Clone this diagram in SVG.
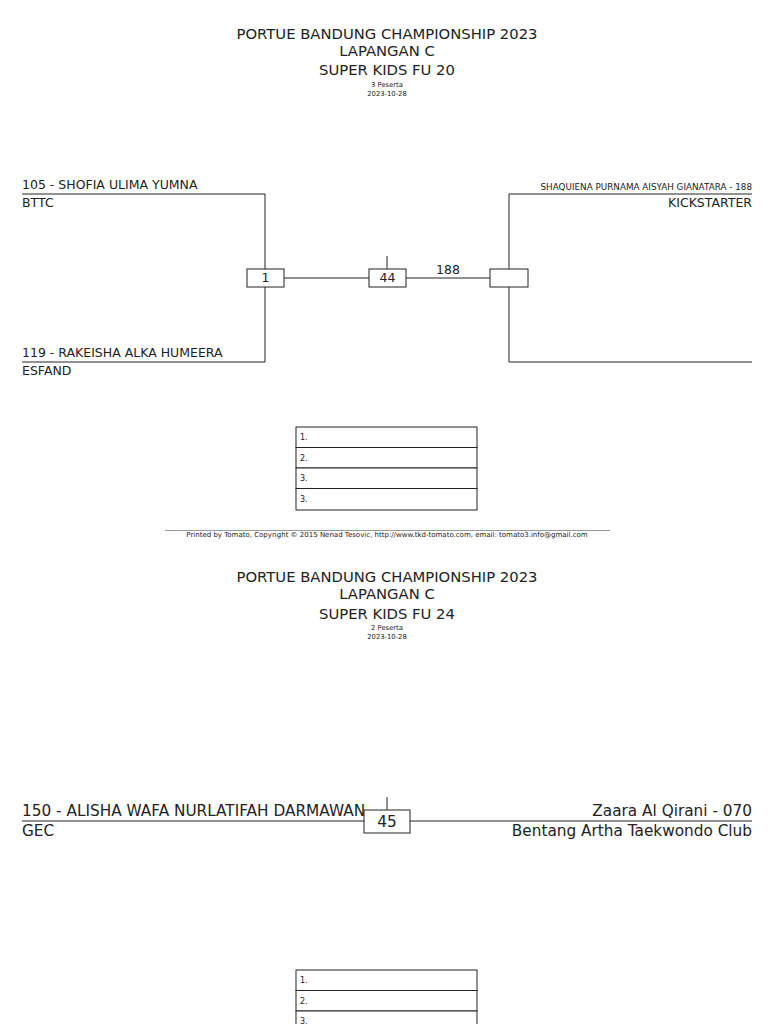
<svg xmlns="http://www.w3.org/2000/svg" width="768" height="1024" viewBox="0 0 768 1024">
<style>
text{font-family:"DejaVu Sans",Verdana,sans-serif;fill:#222}
.t{font-size:14.8px;text-anchor:middle}
.s{font-size:6.8px;text-anchor:middle}
.n{font-size:12.5px}
.b{font-size:15.3px}
.r{text-anchor:end}
.c{text-anchor:middle}
line,rect{stroke:#222;stroke-width:1;fill:#fff}
</style>
<rect x="0" y="0" width="768" height="1024" style="stroke:none"/>
<g id="header1">
<text class="t" x="387" y="39">PORTUE BANDUNG CHAMPIONSHIP 2023</text>
<text class="t" x="387" y="56">LAPANGAN C</text>
<text class="t" x="387" y="75">SUPER KIDS FU 20</text>
<text class="s" x="387" y="87">3 Peserta</text>
<text class="s" x="387" y="96">2023-10-28</text>
</g>
<g id="connectors1">
<line x1="22" y1="194" x2="265" y2="194"/>
<line x1="22" y1="362" x2="265" y2="362"/>
<line x1="265" y1="194" x2="265" y2="362"/>
<line x1="284" y1="278" x2="369" y2="278"/>
<line x1="406" y1="278" x2="490" y2="278"/>
<line x1="387" y1="256" x2="387" y2="269"/>
<line x1="509" y1="194" x2="752" y2="194"/>
<line x1="509" y1="362" x2="752" y2="362"/>
<line x1="509" y1="194" x2="509" y2="362"/>
</g>
<g id="p105"><text class="n" x="22" y="189">105 - SHOFIA ULIMA YUMNA</text><text class="n" x="22" y="207">BTTC</text></g>
<g id="p119"><text class="n" x="22" y="357">119 - RAKEISHA ALKA HUMEERA</text><text class="n" x="22" y="375">ESFAND</text></g>
<g id="p188"><text class="r" style="font-size:8.8px" x="752" y="190">SHAQUIENA PURNAMA AISYAH GIANATARA - 188</text><text class="n r" x="752" y="207">KICKSTARTER</text></g>
<g id="m1"><rect x="247" y="269" width="37" height="18"/><text class="n c" x="265.5" y="282">1</text></g>
<g id="m44"><rect x="369" y="269" width="37" height="18"/><text class="n c" x="387.5" y="282">44</text></g>
<g id="mR"><rect x="490" y="269" width="38" height="18"/></g>
<text class="n c" x="448" y="274">188</text>
<g id="table1">
<rect x="296" y="427" width="181" height="20.5"/><rect x="296" y="447.5" width="181" height="20.5"/>
<rect x="296" y="468" width="181" height="20.5"/><rect x="296" y="488.5" width="181" height="21.5"/>
<text style="font-size:8px" x="300" y="440">1.</text><text style="font-size:8px" x="300" y="461">2.</text>
<text style="font-size:8px" x="300" y="481">3.</text><text style="font-size:8px" x="300" y="502">3.</text>
</g>
<g id="footer">
<line x1="165" y1="530.5" x2="610" y2="530.5" style="stroke:#999"/>
<text class="s" style="font-size:7px" x="387" y="537">Printed by Tomato, Copyright © 2015 Nenad Tesovic, http://www.tkd-tomato.com, email: tomato3.info@gmail.com</text>
</g>
<g id="header2">
<text class="t" x="387" y="582">PORTUE BANDUNG CHAMPIONSHIP 2023</text>
<text class="t" x="387" y="599">LAPANGAN C</text>
<text class="t" x="387" y="619">SUPER KIDS FU 24</text>
<text class="s" x="387" y="630">2 Peserta</text>
<text class="s" x="387" y="639">2023-10-28</text>
</g>
<g id="connectors2">
<line x1="22" y1="821" x2="752" y2="821"/>
<line x1="387" y1="797" x2="387" y2="810"/>
</g>
<g id="p150"><text class="b" x="22" y="816">150 - ALISHA WAFA NURLATIFAH DARMAWAN</text><text class="b" x="22" y="836">GEC</text></g>
<g id="p070"><text class="b r" x="752" y="816">Zaara Al Qirani - 070</text><text class="b r" x="752" y="836">Bentang Artha Taekwondo Club</text></g>
<g id="m45"><rect x="364" y="810" width="46" height="23"/><text class="b c" x="387" y="827">45</text></g>
<g id="table2">
<rect x="296" y="970" width="181" height="20.5"/><rect x="296" y="990.5" width="181" height="20.5"/>
<rect x="296" y="1011" width="181" height="20.5"/>
<text style="font-size:8px" x="300" y="983">1.</text><text style="font-size:8px" x="300" y="1004">2.</text>
<text style="font-size:8px" x="300" y="1024">3.</text>
</g>
</svg>
